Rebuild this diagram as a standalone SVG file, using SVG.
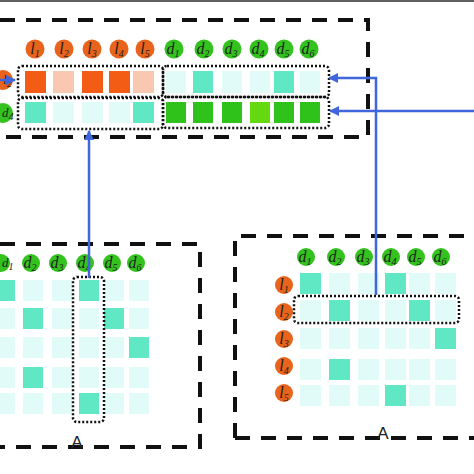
<svg xmlns="http://www.w3.org/2000/svg" width="474" height="474" viewBox="0 0 474 474">
<defs>
<style>
.dash{fill:none;stroke:#111;stroke-width:4;stroke-dasharray:15 11}
.dot{fill:none;stroke:#111;stroke-width:2.5;stroke-dasharray:2 2}
.lc{fill:#E8641C}
.dc{fill:#34C21E}
.lb{font-family:"Liberation Serif",serif;font-style:italic;font-size:16px;fill:#1e1e1e;text-anchor:middle}
.eg{font-size:13px;text-anchor:start}
.sb{font-size:10px}
.od{fill:#F25C14}
.ol{fill:#F9C8B0}
.tk{fill:#5FE8C3}
.pl{fill:#E1FBF8}
.gr{fill:#2EC21B}
.lg{fill:#64D910}
.arw{fill:none;stroke:#3F66DA;stroke-width:2.5}
.A{font-family:"Liberation Sans",sans-serif;font-size:17px;fill:#222;text-anchor:middle}
</style>
<marker id="ah" markerWidth="10" markerHeight="10" refX="9" refY="5" orient="auto" markerUnits="userSpaceOnUse">
<path d="M0,0 L10,5 L0,10 Z" fill="#3F66DA"/>
</marker>
</defs>
<rect x="0" y="0" width="474" height="474" fill="#fff"/>
<rect x="0" y="0" width="474" height="2" fill="#606060"/>

<g id="top-panel">
<path class="dash" d="M0,20 L368,20 L368,137 L0,137"/>
<g id="top-circles">
<circle class="lc" cx="3" cy="80" r="10"/><text class="lb eg" x="3" y="84">l<tspan class="sb" dy="3">2</tspan></text>
<circle class="dc" cx="3" cy="113" r="10"/><text class="lb eg" x="2" y="117">d<tspan class="sb" dy="3">4</tspan></text>
<circle class="lc" cx="35" cy="49" r="9.5"/><text class="lb" x="35" y="54">l<tspan class="sb" dy="3">1</tspan></text>
<circle class="lc" cx="64" cy="49" r="9.5"/><text class="lb" x="64" y="54">l<tspan class="sb" dy="3">2</tspan></text>
<circle class="lc" cx="92" cy="49" r="9.5"/><text class="lb" x="92" y="54">l<tspan class="sb" dy="3">3</tspan></text>
<circle class="lc" cx="119" cy="49" r="9.5"/><text class="lb" x="119" y="54">l<tspan class="sb" dy="3">4</tspan></text>
<circle class="lc" cx="145" cy="49" r="9.5"/><text class="lb" x="145" y="54">l<tspan class="sb" dy="3">5</tspan></text>
<circle class="dc" cx="174" cy="49" r="9.5"/><text class="lb" x="173" y="54">d<tspan class="sb" dy="3">1</tspan></text>
<circle class="dc" cx="204" cy="49" r="9.5"/><text class="lb" x="203" y="54">d<tspan class="sb" dy="3">2</tspan></text>
<circle class="dc" cx="232" cy="49" r="9.5"/><text class="lb" x="231" y="54">d<tspan class="sb" dy="3">3</tspan></text>
<circle class="dc" cx="259" cy="49" r="9.5"/><text class="lb" x="258" y="54">d<tspan class="sb" dy="3">4</tspan></text>
<circle class="dc" cx="284" cy="49" r="9.5"/><text class="lb" x="283" y="54">d<tspan class="sb" dy="3">5</tspan></text>
<circle class="dc" cx="309" cy="49" r="9.5"/><text class="lb" x="308" y="54">d<tspan class="sb" dy="3">6</tspan></text>
</g>
<g id="row-l2">
<rect class="od" x="25" y="71" width="21" height="22"/>
<rect class="ol" x="53" y="71" width="21" height="22"/>
<rect class="od" x="82" y="71" width="21" height="22"/>
<rect class="od" x="109" y="71" width="21" height="22"/>
<rect class="ol" x="133" y="71" width="21" height="22"/>
<rect class="pl" x="166" y="71" width="20" height="22"/>
<rect class="tk" x="193" y="71" width="20" height="22"/>
<rect class="pl" x="222" y="71" width="20" height="22"/>
<rect class="pl" x="250" y="71" width="20" height="22"/>
<rect class="tk" x="274" y="71" width="20" height="22"/>
<rect class="pl" x="300" y="71" width="20" height="22"/>
</g>
<g id="row-d4">
<rect class="tk" x="25" y="102" width="21" height="21"/>
<rect class="pl" x="53" y="102" width="21" height="21"/>
<rect class="pl" x="82" y="102" width="21" height="21"/>
<rect class="pl" x="109" y="102" width="21" height="21"/>
<rect class="tk" x="133" y="102" width="21" height="21"/>
<rect class="gr" x="166" y="102" width="20" height="21"/>
<rect class="gr" x="193" y="102" width="20" height="21"/>
<rect class="gr" x="222" y="102" width="20" height="21"/>
<rect class="lg" x="250" y="102" width="20" height="21"/>
<rect class="gr" x="274" y="102" width="20" height="21"/>
<rect class="gr" x="300" y="102" width="20" height="21"/>
</g>
<rect class="dot" x="18" y="66" width="145" height="31" rx="4"/>
<rect class="dot" x="18" y="98" width="145" height="31" rx="4"/>
<rect class="dot" x="163" y="66" width="166" height="31" rx="4"/>
<rect class="dot" x="163" y="97" width="166" height="31" rx="4"/>
</g>

<g id="left-matrix">
<path class="dash" d="M0,244 L200,244 L200,447 L0,447"/>
<circle class="dc" cx="1" cy="263" r="9"/><text class="lb eg" x="2" y="267">d<tspan class="sb" dy="3">1</tspan></text>
<circle class="dc" cx="31" cy="263" r="9"/><text class="lb" x="30" y="268">d<tspan class="sb" dy="3">2</tspan></text>
<circle class="dc" cx="58" cy="263" r="9"/><text class="lb" x="57" y="268">d<tspan class="sb" dy="3">3</tspan></text>
<circle class="dc" cx="85" cy="263" r="9"/><text class="lb" x="84" y="268">d<tspan class="sb" dy="3">4</tspan></text>
<circle class="dc" cx="112" cy="263" r="9"/><text class="lb" x="111" y="268">d<tspan class="sb" dy="3">5</tspan></text>
<circle class="dc" cx="136" cy="263" r="9"/><text class="lb" x="135" y="268">d<tspan class="sb" dy="3">6</tspan></text>
<g>
<rect class="tk" x="-5" y="280" width="20" height="21"/><rect class="pl" x="23" y="280" width="20" height="21"/><rect class="pl" x="52" y="280" width="20" height="21"/><rect class="tk" x="79" y="280" width="20" height="21"/><rect class="pl" x="104" y="280" width="20" height="21"/><rect class="pl" x="129" y="280" width="20" height="21"/>
<rect class="pl" x="-5" y="308" width="20" height="21"/><rect class="tk" x="23" y="308" width="20" height="21"/><rect class="pl" x="52" y="308" width="20" height="21"/><rect class="pl" x="79" y="308" width="20" height="21"/><rect class="tk" x="104" y="308" width="20" height="21"/><rect class="pl" x="129" y="308" width="20" height="21"/>
<rect class="pl" x="-5" y="337" width="20" height="21"/><rect class="pl" x="23" y="337" width="20" height="21"/><rect class="pl" x="52" y="337" width="20" height="21"/><rect class="pl" x="79" y="337" width="20" height="21"/><rect class="pl" x="104" y="337" width="20" height="21"/><rect class="tk" x="129" y="337" width="20" height="21"/>
<rect class="pl" x="-5" y="367" width="20" height="21"/><rect class="tk" x="23" y="367" width="20" height="21"/><rect class="pl" x="52" y="367" width="20" height="21"/><rect class="pl" x="79" y="367" width="20" height="21"/><rect class="pl" x="104" y="367" width="20" height="21"/><rect class="pl" x="129" y="367" width="20" height="21"/>
<rect class="pl" x="-5" y="393" width="20" height="21"/><rect class="pl" x="23" y="393" width="20" height="21"/><rect class="pl" x="52" y="393" width="20" height="21"/><rect class="tk" x="79" y="393" width="20" height="21"/><rect class="pl" x="104" y="393" width="20" height="21"/><rect class="pl" x="129" y="393" width="20" height="21"/>
</g>
<rect class="dot" x="73" y="277" width="31" height="145" rx="4"/>
<text class="A" x="77" y="448">A</text>
</g>

<g id="right-matrix">
<path class="dash" d="M235,438 L235,236 L480,236 M235,438 L480,438"/>
<circle class="dc" cx="306" cy="257" r="9"/><text class="lb" x="305" y="262">d<tspan class="sb" dy="3">1</tspan></text>
<circle class="dc" cx="336" cy="257" r="9"/><text class="lb" x="335" y="262">d<tspan class="sb" dy="3">2</tspan></text>
<circle class="dc" cx="364" cy="257" r="9"/><text class="lb" x="363" y="262">d<tspan class="sb" dy="3">3</tspan></text>
<circle class="dc" cx="391" cy="257" r="9"/><text class="lb" x="390" y="262">d<tspan class="sb" dy="3">4</tspan></text>
<circle class="dc" cx="416" cy="257" r="9"/><text class="lb" x="415" y="262">d<tspan class="sb" dy="3">5</tspan></text>
<circle class="dc" cx="441" cy="257" r="9"/><text class="lb" x="440" y="262">d<tspan class="sb" dy="3">6</tspan></text>
<circle class="lc" cx="284" cy="285" r="9"/><text class="lb" x="284" y="290">l<tspan class="sb" dy="3">1</tspan></text>
<circle class="lc" cx="284" cy="312" r="9"/><text class="lb" x="284" y="317">l<tspan class="sb" dy="3">2</tspan></text>
<circle class="lc" cx="284" cy="339" r="9"/><text class="lb" x="284" y="344">l<tspan class="sb" dy="3">3</tspan></text>
<circle class="lc" cx="284" cy="366" r="9"/><text class="lb" x="284" y="371">l<tspan class="sb" dy="3">4</tspan></text>
<circle class="lc" cx="284" cy="393" r="9"/><text class="lb" x="284" y="398">l<tspan class="sb" dy="3">5</tspan></text>
<g>
<rect class="tk" x="300" y="273" width="21" height="21"/><rect class="pl" x="329" y="273" width="21" height="21"/><rect class="pl" x="358" y="273" width="21" height="21"/><rect class="tk" x="385" y="273" width="21" height="21"/><rect class="pl" x="409" y="273" width="21" height="21"/><rect class="pl" x="435" y="273" width="21" height="21"/>
<rect class="pl" x="300" y="300" width="21" height="21"/><rect class="tk" x="329" y="300" width="21" height="21"/><rect class="pl" x="358" y="300" width="21" height="21"/><rect class="pl" x="385" y="300" width="21" height="21"/><rect class="tk" x="409" y="300" width="21" height="21"/><rect class="pl" x="435" y="300" width="21" height="21"/>
<rect class="pl" x="300" y="328" width="21" height="21"/><rect class="pl" x="329" y="328" width="21" height="21"/><rect class="pl" x="358" y="328" width="21" height="21"/><rect class="pl" x="385" y="328" width="21" height="21"/><rect class="pl" x="409" y="328" width="21" height="21"/><rect class="tk" x="435" y="328" width="21" height="21"/>
<rect class="pl" x="300" y="359" width="21" height="21"/><rect class="tk" x="329" y="359" width="21" height="21"/><rect class="pl" x="358" y="359" width="21" height="21"/><rect class="pl" x="385" y="359" width="21" height="21"/><rect class="pl" x="409" y="359" width="21" height="21"/><rect class="pl" x="435" y="359" width="21" height="21"/>
<rect class="pl" x="300" y="385" width="21" height="21"/><rect class="pl" x="329" y="385" width="21" height="21"/><rect class="pl" x="358" y="385" width="21" height="21"/><rect class="tk" x="385" y="385" width="21" height="21"/><rect class="pl" x="409" y="385" width="21" height="21"/><rect class="pl" x="435" y="385" width="21" height="21"/>
</g>
<rect class="dot" x="294" y="296" width="165" height="27" rx="4"/>
<text class="A" x="383" y="439">A</text>
</g>

<g id="connectors">
<path class="arw" d="M-2,80 L15,80" marker-end="url(#ah)"/>
<path class="arw" d="M89,278 L89,131" marker-end="url(#ah)"/>
<path class="arw" d="M376,295 L376,78 L329,78" marker-end="url(#ah)"/>
<path class="arw" d="M476,111 L330,111" marker-end="url(#ah)"/>
</g>
</svg>
